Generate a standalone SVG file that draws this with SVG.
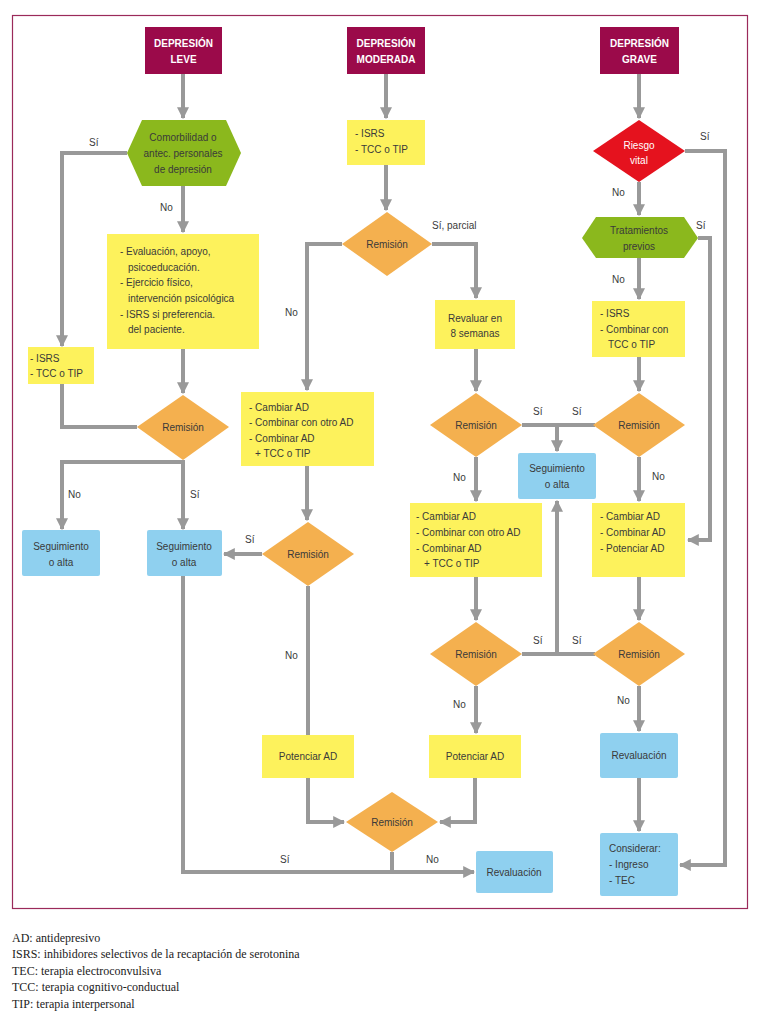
<svg xmlns="http://www.w3.org/2000/svg" width="768" height="1024" viewBox="0 0 768 1024">
<defs>
<marker id="ah" viewBox="0 0 10 10" refX="9" refY="5" markerWidth="12" markerHeight="14" markerUnits="userSpaceOnUse" orient="auto"><path d="M0,0 L10,5 L0,10 z" fill="#999"/></marker>
<style>
text{font-family:"Liberation Sans",Arial,sans-serif;font-size:10px;fill:#3a3a3a}
.h{fill:#9b0a4a}.h+text,.ht{fill:#fff;font-weight:bold;font-size:10px}
.y{fill:#fdf25c}.o{fill:#f4b04f}.g{fill:#8bb81d}.b{fill:#8fd0ef}.r{fill:#e5121e}
.c{text-anchor:middle}
.l{font-size:10px}
.lg{font-family:"Liberation Serif","Times New Roman",serif;font-size:12px;fill:#222}
#edges path{fill:none;stroke:#999;stroke-width:4}
</style>
</defs>
<rect x="0" y="0" width="768" height="1024" fill="#fff"/>
<rect x="12.5" y="15.5" width="735" height="893" fill="none" stroke="#9b2a5a" stroke-width="1.2"/>

<g id="edges">
<path d="M183,74V118" marker-end="url(#ah)"/>
<path d="M127,153H62V346" marker-end="url(#ah)"/>
<path d="M183,186V232" marker-end="url(#ah)"/>
<path d="M183,349V393" marker-end="url(#ah)"/>
<path d="M62,384V427H137"/>
<path d="M183,460V529" marker-end="url(#ah)"/>
<path d="M183,462H62V529" marker-end="url(#ah)"/>
<path d="M183,576V872H474" marker-end="url(#ah)"/>
<path d="M386,74V118" marker-end="url(#ah)"/>
<path d="M386,165V210" marker-end="url(#ah)"/>
<path d="M432,244H476V298" marker-end="url(#ah)"/>
<path d="M342,244H307V390" marker-end="url(#ah)"/>
<path d="M307,466V520" marker-end="url(#ah)"/>
<path d="M262,554H224" marker-end="url(#ah)"/>
<path d="M308,586V735"/>
<path d="M308,778V822H344" marker-end="url(#ah)"/>
<path d="M475,778V822H440" marker-end="url(#ah)"/>
<path d="M392,852V872"/>
<path d="M476,349V391" marker-end="url(#ah)"/>
<path d="M522,425H595"/>
<path d="M557,425V451" marker-end="url(#ah)"/>
<path d="M476,457V501" marker-end="url(#ah)"/>
<path d="M476,577V620" marker-end="url(#ah)"/>
<path d="M522,654H595"/>
<path d="M557,654V501" marker-end="url(#ah)"/>
<path d="M476,686V733" marker-end="url(#ah)"/>
<path d="M639,74V118" marker-end="url(#ah)"/>
<path d="M685,151H725V865H680" marker-end="url(#ah)"/>
<path d="M639,182V215" marker-end="url(#ah)"/>
<path d="M698,238H710V540H688" marker-end="url(#ah)"/>
<path d="M639,258V299" marker-end="url(#ah)"/>
<path d="M639,357V391" marker-end="url(#ah)"/>
<path d="M639,457V501" marker-end="url(#ah)"/>
<path d="M639,577V620" marker-end="url(#ah)"/>
<path d="M639,686V731" marker-end="url(#ah)"/>
<path d="M639,778V831" marker-end="url(#ah)"/>
<g id="edge-labels">
<text x="89" y="146">Sí</text>
<text x="160" y="211">No</text>
<text x="68" y="498">No</text>
<text x="190" y="498">Sí</text>
<text x="432" y="229">Sí, parcial</text>
<text x="285" y="316">No</text>
<text x="245" y="543">Sí</text>
<text x="285" y="659">No</text>
<text x="280" y="863">Sí</text>
<text x="426" y="863">No</text>
<text x="533" y="415">Sí</text>
<text x="572" y="415">Sí</text>
<text x="453" y="481">No</text>
<text x="533" y="644">Sí</text>
<text x="572" y="644">Sí</text>
<text x="453" y="708">No</text>
<text x="700" y="140">Sí</text>
<text x="612" y="196">No</text>
<text x="696" y="229">Sí</text>
<text x="612" y="283">No</text>
<text x="652" y="480">No</text>
<text x="617" y="704">No</text>
</g>
</g>

<g id="h-leve"><rect class="h" x="145" y="27" width="77" height="47"/><text class="ht c" x="183.5" y="47">DEPRESIÓN</text><text class="ht c" x="183.5" y="63">LEVE</text></g>
<g id="h-mod"><rect class="h" x="347" y="27" width="78" height="47"/><text class="ht c" x="386" y="47">DEPRESIÓN</text><text class="ht c" x="386" y="63">MODERADA</text></g>
<g id="h-grave"><rect class="h" x="600" y="27" width="79" height="47"/><text class="ht c" x="639.5" y="47">DEPRESIÓN</text><text class="ht c" x="639.5" y="63">GRAVE</text></g>

<g id="comorb"><polygon class="g" points="127,153 142,120 226,120 241,153 226,186 142,186"/><text class="c" x="183" y="141">Comorbilidad o</text><text class="c" x="183" y="157">antec. personales</text><text class="c" x="183" y="173">de depresión</text></g>
<g id="eval"><rect class="y" x="107" y="234" width="152" height="115"/><text x="120" y="255">- Evaluación, apoyo,</text><text x="128" y="271">psicoeducación.</text><text x="120" y="286">- Ejercicio físico,</text><text x="128" y="302">intervención psicológica</text><text x="120" y="318">- ISRS si preferencia.</text><text x="128" y="333">del paciente.</text></g>
<g id="isrs1"><rect class="y" x="28" y="347" width="66" height="37"/><text x="30" y="362">- ISRS</text><text x="30" y="377">- TCC o TIP</text></g>
<g id="rem1"><polygon class="o" points="137,427 183,395 229,427 183,460"/><text class="c" x="183" y="431">Remisión</text></g>
<g id="seg1"><rect class="b" x="22" y="530" width="78" height="46" rx="2"/><text class="c" x="61" y="550">Seguimiento</text><text class="c" x="61" y="566">o alta</text></g>
<g id="seg2"><rect class="b" x="147" y="530" width="75" height="46" rx="2"/><text class="c" x="184" y="550">Seguimiento</text><text class="c" x="184" y="566">o alta</text></g>

<g id="isrs2"><rect class="y" x="347" y="120" width="78" height="45"/><text x="355" y="137">- ISRS</text><text x="355" y="153">- TCC o TIP</text></g>
<g id="rem2"><polygon class="o" points="342,244 387,212 432,244 387,276"/><text class="c" x="387" y="248">Remisión</text></g>
<g id="reval8"><rect class="y" x="435" y="300" width="80" height="49"/><text class="c" x="475" y="322">Revaluar en</text><text class="c" x="475" y="337">8 semanas</text></g>
<g id="camb1"><rect class="y" x="241" y="392" width="133" height="74"/><text x="249" y="411">- Cambiar AD</text><text x="249" y="426">- Combinar con otro AD</text><text x="249" y="442">- Combinar AD</text><text x="255" y="457">+ TCC o TIP</text></g>
<g id="rem3"><polygon class="o" points="262,554 308,522 354,554 308,586"/><text class="c" x="308" y="558">Remisión</text></g>
<g id="pot1"><rect class="y" x="262" y="735" width="92" height="43"/><text class="c" x="308" y="760">Potenciar AD</text></g>
<g id="rem4"><polygon class="o" points="346,822 392,792 438,822 392,852"/><text class="c" x="392" y="826">Remisión</text></g>
<g id="reval1"><rect class="b" x="476" y="851" width="77" height="42" rx="2"/><text class="c" x="514" y="876">Revaluación</text></g>

<g id="rem5"><polygon class="o" points="430,425 476,393 522,425 476,457"/><text class="c" x="476" y="429">Remisión</text></g>
<g id="seg3"><rect class="b" x="518" y="453" width="78" height="46" rx="2"/><text class="c" x="557" y="472">Seguimiento</text><text class="c" x="557" y="488">o alta</text></g>
<g id="camb2"><rect class="y" x="410" y="503" width="132" height="74"/><text x="416" y="520">- Cambiar AD</text><text x="416" y="536">- Combinar con otro AD</text><text x="416" y="552">- Combinar AD</text><text x="424" y="567">+ TCC o TIP</text></g>
<g id="rem6"><polygon class="o" points="430,654 476,622 522,654 476,686"/><text class="c" x="476" y="658">Remisión</text></g>
<g id="pot2"><rect class="y" x="429" y="735" width="92" height="43"/><text class="c" x="475" y="760">Potenciar AD</text></g>

<g id="riesgo"><polygon class="r" points="593,151 639,120 685,151 639,182"/><text class="ht c" style="font-weight:normal" x="639" y="149">Riesgo</text><text class="ht c" style="font-weight:normal" x="639" y="164">vital</text></g>
<g id="trat"><polygon class="g" points="582,238 596,217 684,217 698,238 684,258 596,258"/><text class="c" x="639" y="234">Tratamientos</text><text class="c" x="639" y="250">previos</text></g>
<g id="isrs3"><rect class="y" x="592" y="301" width="93" height="56"/><text x="600" y="317">- ISRS</text><text x="600" y="333">- Combinar con</text><text x="608" y="348">TCC o TIP</text></g>
<g id="rem7"><polygon class="o" points="593,425 639,393 685,425 639,457"/><text class="c" x="639" y="429">Remisión</text></g>
<g id="camb3"><rect class="y" x="592" y="503" width="93" height="74"/><text x="600" y="520">- Cambiar AD</text><text x="600" y="536">- Combinar AD</text><text x="600" y="552">- Potenciar AD</text></g>
<g id="rem8"><polygon class="o" points="593,654 639,622 685,654 639,686"/><text class="c" x="639" y="658">Remisión</text></g>
<g id="reval2"><rect class="b" x="600" y="733" width="78" height="45" rx="2"/><text class="c" x="639" y="759">Revaluación</text></g>
<g id="consid"><rect class="b" x="600" y="833" width="78" height="63" rx="2"/><text x="609" y="852">Considerar:</text><text x="609" y="868">- Ingreso</text><text x="609" y="884">- TEC</text></g>

<g id="legend">
<text class="lg" x="12" y="942">AD: antidepresivo</text>
<text class="lg" x="12" y="958">ISRS: inhibidores selectivos de la recaptación de serotonina</text>
<text class="lg" x="12" y="975">TEC: terapia electroconvulsiva</text>
<text class="lg" x="12" y="991">TCC: terapia cognitivo-conductual</text>
<text class="lg" x="12" y="1008">TIP: terapia interpersonal</text>
</g>
</svg>
